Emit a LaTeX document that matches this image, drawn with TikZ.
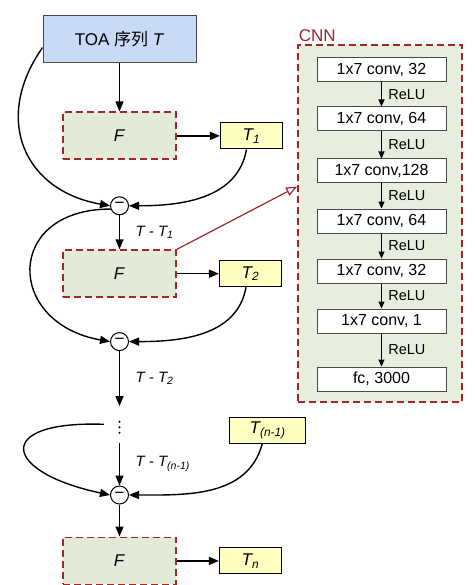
\documentclass[tikz,border=0pt]{standalone}
\usepackage{fontspec}
\setmainfont{Liberation Sans}
\newfontfamily\cjk{Noto Sans CJK SC}
\usetikzlibrary{arrows.meta, positioning, calc}
\definecolor{toablue}{HTML}{C9DAF8}
\definecolor{fgreen}{HTML}{E3EAD8}
\definecolor{cnngreen}{HTML}{E7EEDD}
\definecolor{tyellow}{HTML}{FFFFC2}
\definecolor{cnnred}{HTML}{A3262B}
\definecolor{edgegray}{HTML}{4A4A4A}

\begin{document}
\begin{tikzpicture}[
        x=1pt, y=1pt, >={Triangle[length=10pt, width=8pt]}, line width=1.4pt,
        font=\fontsize{17}{20}\selectfont,
        toabox/.style={draw=edgegray, line width=1pt, fill=toablue, minimum width=153pt, minimum height=47pt},
        fbox/.style={draw=cnnred, dash pattern=on 7pt off 4pt, line width=1.8pt, fill=fgreen, minimum width=113pt, minimum height=47pt},
        tbox/.style={draw=black, line width=1pt, fill=tyellow, minimum width=62pt, minimum height=26pt, inner sep=0pt},
        minus/.style={draw, circle, line width=1pt, fill=white, minimum size=18pt, inner sep=0pt},
        cnnbox/.style={draw=cnnred, dash pattern=on 7pt off 4pt, line width=1.8pt, fill=cnngreen, minimum width=164pt, minimum height=357pt},
        conv/.style={draw=edgegray, line width=1pt, fill=white, minimum width=129pt, minimum height=24pt, inner sep=0pt, font=\fontsize{16}{19}\selectfont},
        diff/.style={right=12pt, font=\fontsize{15}{18}\selectfont\itshape},
        relu/.style={right=3pt, font=\fontsize{14.5}{17}\selectfont}
    ]
    \useasboundingbox (0,0) rectangle (474,-585);

    % main chain
    \node[toabox] (toa) at (119.5,-39.5) {TOA {\cjk 序列} \textit{T}};
    \node[fbox, below=48pt of toa] (f1) {\textit{F}};
    \node[tbox, right=43pt of f1] (t1) {\textit{T\textsubscript{1}}};
    \node[minus, below=36pt of f1] (m1) {−};
    \node[fbox, below=34pt of m1] (f2) {\textit{F}};
    \node[tbox, right=42pt of f2] (t2) {\textit{T\textsubscript{2}}};
    \node[minus, below=34pt of f2] (m2) {−};
    \node[minimum width=30pt, minimum height=35pt, inner sep=0pt, below=55pt of m2] (dots) {};
    \foreach \d in {2.5,-3,-8.5}
        \fill ($(dots.center)+(0,\d)$) circle (1.1pt);
    \node[tbox, minimum width=76pt, right=94pt of dots, yshift=-6pt] (tn1) {\textit{T\textsubscript{(n-1)}}};
    \node[minus, below=43pt of dots] (m3) {−};
    \node[fbox, below=32pt of m3] (f3) {\textit{F}};
    \node[tbox, right=42pt of f3] (tn) {\textit{T\textsubscript{n}}};

    \draw[->] (toa) -- (f1);
    \draw[->] (f1) -- (t1);
    \draw[->] (m1) -- node[diff] {T - T\textsubscript{1}} (f2);
    \draw[->] (f2) -- (t2);
    \draw[->] (m2) -- node[diff] {T - T\textsubscript{2}} (dots);
    \draw[->] (dots) -- node[diff] {T - T\textsubscript{(n-1)}} (m3);
    \draw[->] (m3) -- (f3);
    \draw[->] (f3) -- (tn);

    % residual loops
    \draw[->] (toa.186) to[out=235, in=170, looseness=1.3] (m1.west);
    \draw[->] (t1.250) to[out=-100, in=0] (m1.east);
    \draw[->] (m1.200) to[out=180, in=170, looseness=2.05] (m2.west);
    \draw[->] (t2.252) to[out=-100, in=0] (m2.east);
    \draw[->] (dots.west) to[out=178, in=168, looseness=4] (m3.west);
    \draw[->] (tn1.248) to[out=-105, in=0] (m3.east);

    % CNN detail
    \node[cnnbox] (cnn) at (380,-223.5) {};
    \node[cnnred, inner sep=1pt, above right=1pt and 0pt of cnn.north west] (cnnlabel) {CNN};
    \node[conv] (c1) at (381.5,-70) {1x7 conv, 32};
    \node[conv, below=24pt of c1] (c2) {1x7 conv, 64};
    \node[conv, below=27pt of c2] (c3) {1x7 conv,128};
    \node[conv, below=25pt of c3] (c4) {1x7 conv, 64};
    \node[conv, below=25pt of c4] (c5) {1x7 conv, 32};
    \node[conv, below=25pt of c5] (c6) {1x7 conv, 1};
    \node[conv, below=33pt of c6] (c7) {fc, 3000};
    \foreach \a/\b in {c1/c2, c2/c3, c3/c4, c4/c5, c5/c6, c6/c7}
        \draw[-{Triangle[length=7pt, width=6pt]}, line width=1pt] (\a) -- node[relu] {ReLU} (\b);

    \draw[cnnred, line width=1.2pt, -{Triangle[open, length=11pt, width=9pt]}] (f2.north east) -- (cnn.156);
\end{tikzpicture}
\end{document}
